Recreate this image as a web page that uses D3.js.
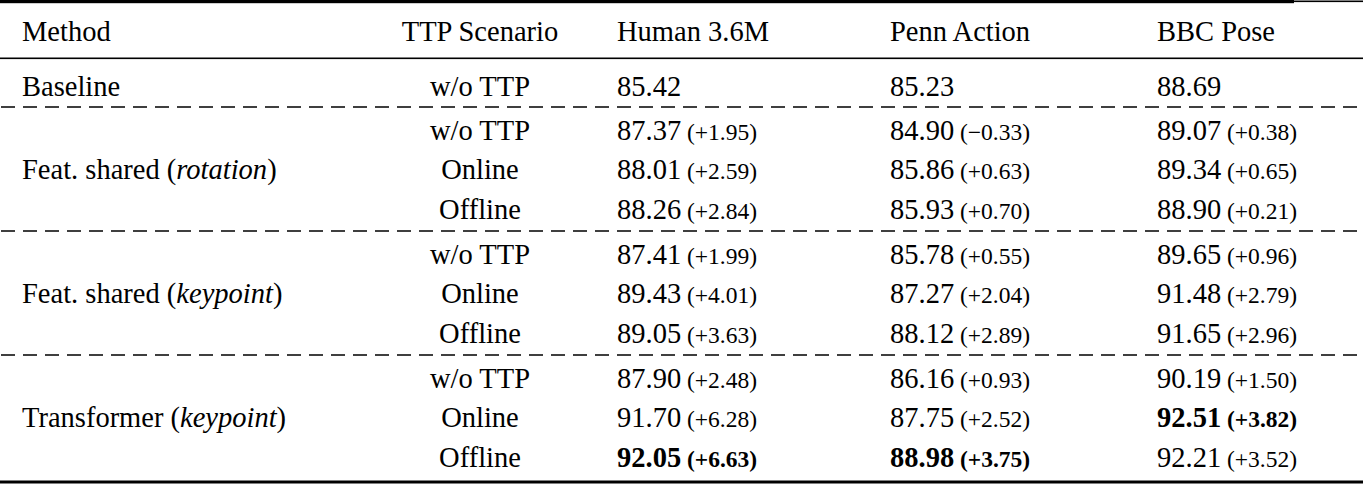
<!DOCTYPE html>
<html><head><meta charset="utf-8">
<script src="https://cdn.jsdelivr.net/npm/d3@7"></script>
<style>body{margin:0;background:#fff}text{font-family:"Liberation Serif","Times New Roman",serif;fill:#000}</style>
</head><body><div id="chart"></div>
<script>
const columns = ["Method", "TTP Scenario", "Human 3.6M", "Penn Action", "BBC Pose"];
const methods = [["Baseline"], ["Feat. shared (", "rotation", ")"], ["Feat. shared (", "keypoint", ")"], ["Transformer (", "keypoint", ")"]];
const scenarios = [["w/o TTP"], ["w/o TTP", "Online", "Offline"], ["w/o TTP", "Online", "Offline"], ["w/o TTP", "Online", "Offline"]];
const human = [[85.42], [87.37, 88.01, 88.26], [87.41, 89.43, 89.05], [87.90, 91.70, 92.05]];
const penn = [[85.23], [84.90, 85.86, 85.93], [85.78, 87.27, 88.12], [86.16, 87.75, 88.98]];
const bbc = [[88.69], [89.07, 89.34, 88.90], [89.65, 91.48, 91.65], [90.19, 92.51, 92.21]];
const bestCells = { "3-2-0": true, "3-2-1": true, "3-1-2": true };

const W = 1363, H = 485;
const svg = d3.select("#chart").append("svg").attr("width", W).attr("height", H);

const rows = [];
methods.forEach((m, g) => scenarios[g].forEach((s, i) => rows.push({ g, i, s })));
const groupTop = [86, 130, 254, 378];
const step = 39.5;
const rowY = r => groupTop[r.g] + r.i * step;

const colX = [22, 480, 617, 890, 1157];
const fs = 28.5, fsSmall = 23.5;

// rules
svg.append("rect").attr("x", 0).attr("y", 0).attr("width", 1294).attr("height", 3.2);
svg.append("rect").attr("x", 1294).attr("y", 0.5).attr("width", 69).attr("height", 1.6);
svg.append("rect").attr("x", 0).attr("y", 57.5).attr("width", W).attr("height", 1.6);
svg.append("rect").attr("x", 0).attr("y", 480.5).attr("width", W).attr("height", 3);
[107, 231, 355].forEach(v => svg.append("line").attr("x1", 1).attr("x2", W).attr("y1", v).attr("y2", v)
  .attr("stroke", "#000").attr("stroke-width", 1.3).attr("stroke-dasharray", "14,8"));

svg.selectAll(".hd").data(columns).join("text").attr("class", "hd")
  .attr("x", (d, i) => colX[i]).attr("y", 31).attr("dy", "0.35em").attr("font-size", fs)
  .attr("text-anchor", (d, i) => i === 1 ? "middle" : "start").text(d => d);

methods.forEach((m, g) => {
  const cy = g === 0 ? groupTop[0] : groupTop[g] + step;
  const t = svg.append("text").attr("x", colX[0]).attr("y", cy).attr("dy", "0.35em").attr("font-size", fs);
  m.forEach((part, k) => t.append("tspan").attr("font-style", k === 1 ? "italic" : null).text(part));
});

svg.selectAll(".sc").data(rows).join("text").attr("class", "sc")
  .attr("x", colX[1]).attr("y", rowY).attr("dy", "0.35em").attr("font-size", fs)
  .attr("text-anchor", "middle").text(d => d.s);

[human, penn, bbc].forEach((vals, c) => {
  rows.forEach(r => {
    const v = vals[r.g][r.i];
    const bold = bestCells[`${r.g}-${r.i}-${c}`];
    const t = svg.append("text").attr("x", colX[c + 2]).attr("y", rowY(r)).attr("dy", "0.35em")
      .attr("font-size", fs).attr("font-weight", bold ? "bold" : null);
    t.append("tspan").text(v.toFixed(2));
    if (r.g > 0) {
      const d = v - vals[0][0];
      const s = (d >= 0 ? "+" : "\u2212") + Math.abs(d).toFixed(2);
      t.append("tspan").attr("font-size", fsSmall).text(" (" + s + ")");
    }
  });
});
</script></body></html>
